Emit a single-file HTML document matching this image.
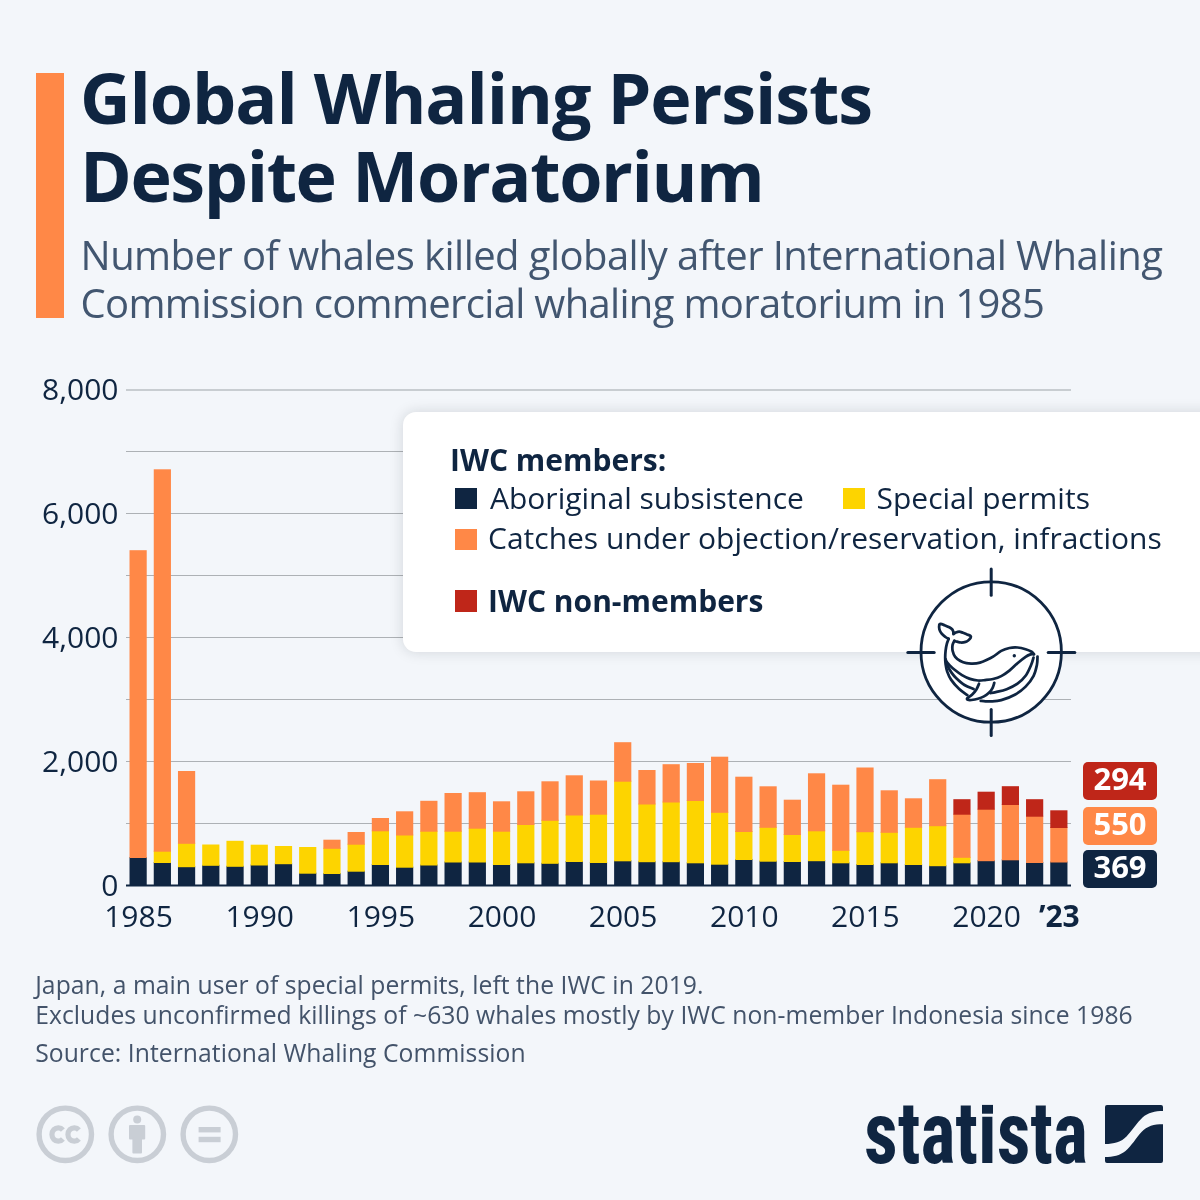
<!DOCTYPE html>
<html><head><meta charset="utf-8">
<style>
*{margin:0;padding:0;box-sizing:border-box}
html,body{width:1200px;height:1200px;overflow:hidden;background:#f3f6fa}
body{position:relative;font-family:"Open Sans","Liberation Sans",sans-serif;color:#0f2541}
.abs{position:absolute;white-space:nowrap}
#accent{left:36px;top:73px;width:28px;height:245px;background:#ff8847}
#title{left:80px;top:59.3px;font-size:70px;font-weight:700;line-height:77.5px;color:#0f2541}
#title span{display:block}
#sub{left:80.6px;top:230.5px;font-size:40px;line-height:48px;color:#425670}
#sub span{display:block}
.yl{position:absolute;right:1081.5px;font-size:30px;line-height:30px;color:#0f2541}
.xl{position:absolute;font-size:30px;line-height:30px;color:#0f2541;width:100px;text-align:center;top:901px}
#legend{left:403px;top:412px;width:830px;height:240px;background:#fff;border-radius:13px;box-shadow:0 0 14px rgba(20,25,35,0.15)}
.lg{position:absolute;font-size:30px;line-height:30px;color:#0f2541;white-space:nowrap}
.sq{position:absolute;width:21px;height:21px}
.vb{position:absolute;left:1083px;width:74px;height:38px;border-radius:5px;color:#fff;font-weight:700;font-size:31px;line-height:32px;text-align:center}
.note{position:absolute;left:35.2px;font-size:24.7px;line-height:24.7px;letter-spacing:0.05px;color:#43536a;white-space:nowrap}
</style></head><body>
<div id="accent" class="abs"></div>
<div id="title" class="abs"><span style="letter-spacing:-1.1px">Global Whaling Persists</span><span style="letter-spacing:-1.4px">Despite Moratorium</span></div>
<div id="sub" class="abs"><span style="letter-spacing:-0.56px">Number of whales killed globally after International Whaling</span><span style="letter-spacing:-0.68px">Commission commercial whaling moratorium in 1985</span></div>

<svg class="abs" style="left:0;top:0" width="1200" height="1200" viewBox="0 0 1200 1200">
<g fill="#adb1b5"><rect x="126" y="389.5" width="945" height="1" fill="#9ea3a7"/><rect x="126" y="451" width="945" height="1"/><rect x="126" y="513" width="945" height="1"/><rect x="126" y="575" width="945" height="1"/><rect x="126" y="637" width="945" height="1"/><rect x="126" y="699" width="945" height="1"/><rect x="126" y="761" width="945" height="1"/><rect x="126" y="823" width="945" height="1"/></g>
<rect x="129.52" y="857.00" width="17.2" height="28.40" fill="#0f2541"/>
<rect x="129.52" y="550.20" width="17.2" height="307.80" fill="#ff8847"/>
<rect x="153.75" y="862.00" width="17.2" height="23.40" fill="#0f2541"/>
<rect x="153.75" y="850.70" width="17.2" height="12.30" fill="#fdd400"/>
<rect x="153.75" y="469.30" width="17.2" height="382.40" fill="#ff8847"/>
<rect x="177.97" y="866.20" width="17.2" height="19.20" fill="#0f2541"/>
<rect x="177.97" y="842.80" width="17.2" height="24.40" fill="#fdd400"/>
<rect x="177.97" y="771.00" width="17.2" height="72.80" fill="#ff8847"/>
<rect x="202.21" y="864.80" width="17.2" height="20.60" fill="#0f2541"/>
<rect x="202.21" y="844.50" width="17.2" height="21.30" fill="#fdd400"/>
<rect x="226.44" y="865.80" width="17.2" height="19.60" fill="#0f2541"/>
<rect x="226.44" y="840.80" width="17.2" height="26.00" fill="#fdd400"/>
<rect x="250.66" y="864.50" width="17.2" height="20.90" fill="#0f2541"/>
<rect x="250.66" y="844.70" width="17.2" height="20.80" fill="#fdd400"/>
<rect x="274.89" y="863.20" width="17.2" height="22.20" fill="#0f2541"/>
<rect x="274.89" y="846.00" width="17.2" height="18.20" fill="#fdd400"/>
<rect x="299.12" y="872.70" width="17.2" height="12.70" fill="#0f2541"/>
<rect x="299.12" y="847.00" width="17.2" height="26.70" fill="#fdd400"/>
<rect x="323.36" y="873.00" width="17.2" height="12.40" fill="#0f2541"/>
<rect x="323.36" y="847.80" width="17.2" height="26.20" fill="#fdd400"/>
<rect x="323.36" y="839.70" width="17.2" height="9.10" fill="#ff8847"/>
<rect x="347.58" y="870.70" width="17.2" height="14.70" fill="#0f2541"/>
<rect x="347.58" y="843.70" width="17.2" height="28.00" fill="#fdd400"/>
<rect x="347.58" y="832.00" width="17.2" height="12.70" fill="#ff8847"/>
<rect x="371.81" y="864.00" width="17.2" height="21.40" fill="#0f2541"/>
<rect x="371.81" y="830.30" width="17.2" height="34.70" fill="#fdd400"/>
<rect x="371.81" y="818.00" width="17.2" height="13.30" fill="#ff8847"/>
<rect x="396.04" y="866.70" width="17.2" height="18.70" fill="#0f2541"/>
<rect x="396.04" y="834.50" width="17.2" height="33.20" fill="#fdd400"/>
<rect x="396.04" y="811.30" width="17.2" height="24.20" fill="#ff8847"/>
<rect x="420.27" y="864.50" width="17.2" height="20.90" fill="#0f2541"/>
<rect x="420.27" y="830.70" width="17.2" height="34.80" fill="#fdd400"/>
<rect x="420.27" y="800.80" width="17.2" height="30.90" fill="#ff8847"/>
<rect x="444.50" y="861.50" width="17.2" height="23.90" fill="#0f2541"/>
<rect x="444.50" y="830.70" width="17.2" height="31.80" fill="#fdd400"/>
<rect x="444.50" y="793.00" width="17.2" height="38.70" fill="#ff8847"/>
<rect x="468.73" y="861.50" width="17.2" height="23.90" fill="#0f2541"/>
<rect x="468.73" y="827.70" width="17.2" height="34.80" fill="#fdd400"/>
<rect x="468.73" y="792.20" width="17.2" height="36.50" fill="#ff8847"/>
<rect x="492.96" y="864.00" width="17.2" height="21.40" fill="#0f2541"/>
<rect x="492.96" y="830.70" width="17.2" height="34.30" fill="#fdd400"/>
<rect x="492.96" y="801.30" width="17.2" height="30.40" fill="#ff8847"/>
<rect x="517.20" y="862.30" width="17.2" height="23.10" fill="#0f2541"/>
<rect x="517.20" y="824.00" width="17.2" height="39.30" fill="#fdd400"/>
<rect x="517.20" y="791.30" width="17.2" height="33.70" fill="#ff8847"/>
<rect x="541.43" y="862.80" width="17.2" height="22.60" fill="#0f2541"/>
<rect x="541.43" y="819.80" width="17.2" height="44.00" fill="#fdd400"/>
<rect x="541.43" y="781.30" width="17.2" height="39.50" fill="#ff8847"/>
<rect x="565.65" y="861.00" width="17.2" height="24.40" fill="#0f2541"/>
<rect x="565.65" y="814.50" width="17.2" height="47.50" fill="#fdd400"/>
<rect x="565.65" y="775.30" width="17.2" height="40.20" fill="#ff8847"/>
<rect x="589.88" y="862.00" width="17.2" height="23.40" fill="#0f2541"/>
<rect x="589.88" y="813.70" width="17.2" height="49.30" fill="#fdd400"/>
<rect x="589.88" y="780.50" width="17.2" height="34.20" fill="#ff8847"/>
<rect x="614.12" y="860.30" width="17.2" height="25.10" fill="#0f2541"/>
<rect x="614.12" y="780.70" width="17.2" height="80.60" fill="#fdd400"/>
<rect x="614.12" y="742.20" width="17.2" height="39.50" fill="#ff8847"/>
<rect x="638.35" y="861.20" width="17.2" height="24.20" fill="#0f2541"/>
<rect x="638.35" y="803.50" width="17.2" height="58.70" fill="#fdd400"/>
<rect x="638.35" y="770.00" width="17.2" height="34.50" fill="#ff8847"/>
<rect x="662.57" y="861.20" width="17.2" height="24.20" fill="#0f2541"/>
<rect x="662.57" y="801.50" width="17.2" height="60.70" fill="#fdd400"/>
<rect x="662.57" y="764.20" width="17.2" height="38.30" fill="#ff8847"/>
<rect x="686.80" y="862.30" width="17.2" height="23.10" fill="#0f2541"/>
<rect x="686.80" y="800.00" width="17.2" height="63.30" fill="#fdd400"/>
<rect x="686.80" y="763.00" width="17.2" height="38.00" fill="#ff8847"/>
<rect x="711.03" y="863.70" width="17.2" height="21.70" fill="#0f2541"/>
<rect x="711.03" y="811.80" width="17.2" height="52.90" fill="#fdd400"/>
<rect x="711.03" y="756.70" width="17.2" height="56.10" fill="#ff8847"/>
<rect x="735.26" y="859.00" width="17.2" height="26.40" fill="#0f2541"/>
<rect x="735.26" y="831.00" width="17.2" height="29.00" fill="#fdd400"/>
<rect x="735.26" y="776.70" width="17.2" height="55.30" fill="#ff8847"/>
<rect x="759.50" y="860.70" width="17.2" height="24.70" fill="#0f2541"/>
<rect x="759.50" y="826.80" width="17.2" height="34.90" fill="#fdd400"/>
<rect x="759.50" y="786.30" width="17.2" height="41.50" fill="#ff8847"/>
<rect x="783.73" y="861.00" width="17.2" height="24.40" fill="#0f2541"/>
<rect x="783.73" y="834.00" width="17.2" height="28.00" fill="#fdd400"/>
<rect x="783.73" y="799.70" width="17.2" height="35.30" fill="#ff8847"/>
<rect x="807.96" y="860.20" width="17.2" height="25.20" fill="#0f2541"/>
<rect x="807.96" y="830.30" width="17.2" height="30.90" fill="#fdd400"/>
<rect x="807.96" y="773.30" width="17.2" height="58.00" fill="#ff8847"/>
<rect x="832.18" y="862.30" width="17.2" height="23.10" fill="#0f2541"/>
<rect x="832.18" y="849.80" width="17.2" height="13.50" fill="#fdd400"/>
<rect x="832.18" y="784.70" width="17.2" height="66.10" fill="#ff8847"/>
<rect x="856.41" y="864.00" width="17.2" height="21.40" fill="#0f2541"/>
<rect x="856.41" y="831.20" width="17.2" height="33.80" fill="#fdd400"/>
<rect x="856.41" y="767.50" width="17.2" height="64.70" fill="#ff8847"/>
<rect x="880.64" y="862.30" width="17.2" height="23.10" fill="#0f2541"/>
<rect x="880.64" y="831.80" width="17.2" height="31.50" fill="#fdd400"/>
<rect x="880.64" y="790.30" width="17.2" height="42.50" fill="#ff8847"/>
<rect x="904.88" y="864.00" width="17.2" height="21.40" fill="#0f2541"/>
<rect x="904.88" y="826.80" width="17.2" height="38.20" fill="#fdd400"/>
<rect x="904.88" y="798.30" width="17.2" height="29.50" fill="#ff8847"/>
<rect x="929.11" y="865.20" width="17.2" height="20.20" fill="#0f2541"/>
<rect x="929.11" y="825.20" width="17.2" height="41.00" fill="#fdd400"/>
<rect x="929.11" y="779.20" width="17.2" height="47.00" fill="#ff8847"/>
<rect x="953.34" y="862.30" width="17.2" height="23.10" fill="#0f2541"/>
<rect x="953.34" y="856.80" width="17.2" height="6.50" fill="#fdd400"/>
<rect x="953.34" y="813.70" width="17.2" height="44.10" fill="#ff8847"/>
<rect x="953.34" y="799.20" width="17.2" height="15.50" fill="#bf2619"/>
<rect x="977.56" y="860.20" width="17.2" height="25.20" fill="#0f2541"/>
<rect x="977.56" y="808.70" width="17.2" height="52.50" fill="#ff8847"/>
<rect x="977.56" y="791.70" width="17.2" height="18.00" fill="#bf2619"/>
<rect x="1001.79" y="859.30" width="17.2" height="26.10" fill="#0f2541"/>
<rect x="1001.79" y="804.00" width="17.2" height="56.30" fill="#ff8847"/>
<rect x="1001.79" y="786.20" width="17.2" height="18.80" fill="#bf2619"/>
<rect x="1026.03" y="862.00" width="17.2" height="23.40" fill="#0f2541"/>
<rect x="1026.03" y="815.70" width="17.2" height="47.30" fill="#ff8847"/>
<rect x="1026.03" y="799.20" width="17.2" height="17.50" fill="#bf2619"/>
<rect x="1050.26" y="861.50" width="17.2" height="23.90" fill="#0f2541"/>
<rect x="1050.26" y="827.00" width="17.2" height="35.50" fill="#ff8847"/>
<rect x="1050.26" y="810.30" width="17.2" height="17.70" fill="#bf2619"/>
<rect x="126" y="884.5" width="945" height="2" fill="#0f2541"/>
</svg>

<div class="yl" style="top:374px">8,000</div>
<div class="yl" style="top:497.9px">6,000</div>
<div class="yl" style="top:621.8px">4,000</div>
<div class="yl" style="top:745.6px">2,000</div>
<div class="yl" style="top:869.5px">0</div>

<div class="xl" style="left:88.5px">1985</div>
<div class="xl" style="left:209.7px">1990</div>
<div class="xl" style="left:330.8px">1995</div>
<div class="xl" style="left:452px">2000</div>
<div class="xl" style="left:573.1px">2005</div>
<div class="xl" style="left:694.3px">2010</div>
<div class="xl" style="left:815.4px">2015</div>
<div class="xl" style="left:936.6px">2020</div>
<div class="xl" style="left:1009.3px;font-weight:700">’23</div>

<div id="legend" class="abs"></div>
<div class="lg" style="left:450px;top:445px;font-weight:700">IWC members:</div>
<div class="sq" style="left:455px;top:488px;width:21.7px;height:20.7px;background:#0f2541"></div>
<div class="lg" style="left:490px;top:482.9px">Aboriginal subsistence</div>
<div class="sq" style="left:842.7px;top:488px;width:22.6px;height:20.7px;background:#fdd400"></div>
<div class="lg" style="left:876.5px;top:482.9px">Special permits</div>
<div class="sq" style="left:455px;top:529.2px;width:21.7px;height:21px;background:#ff8847"></div>
<div class="lg" style="left:488px;top:523px">Catches under objection/reservation, infractions</div>
<div class="sq" style="left:455px;top:590.3px;width:21.7px;height:21.4px;background:#bf2619"></div>
<div class="lg" style="left:488px;top:585.9px;font-weight:700">IWC non-members</div>

<svg class="abs" style="left:900px;top:560px" width="180" height="180" viewBox="900 560 180 180">
<circle cx="991.2" cy="652" r="70.2" fill="#fff" stroke="#0f2541" stroke-width="2.8"/>
<g stroke="#0f2541" stroke-width="3" stroke-linecap="round">
<line x1="991.2" y1="569" x2="991.2" y2="595.2"/>
<line x1="991.2" y1="709.5" x2="991.2" y2="735.5"/>
<line x1="907.8" y1="652.6" x2="934.2" y2="652.6"/>
<line x1="1048.2" y1="652.6" x2="1074.8" y2="652.6"/>
</g>
<g transform="translate(0,0.6)"><g fill="none" stroke="#0f2541" stroke-width="2.75" stroke-linecap="round" stroke-linejoin="round">
<path d="M948.70,638.30 C948.17,637.98 946.67,637.27 945.50,636.40 C944.33,635.53 942.72,634.37 941.70,633.10 C940.68,631.83 939.80,630.28 939.40,628.80 C939.00,627.32 939.12,625.12 939.30,624.20 C939.48,623.28 939.63,623.23 940.50,623.30 C941.37,623.37 943.03,624.03 944.50,624.60 C945.97,625.17 948.00,625.98 949.30,626.70 C950.60,627.42 951.63,628.13 952.30,628.90 C952.97,629.67 953.12,630.53 953.30,631.30 C953.48,632.07 953.38,633.13 953.40,633.50 M953.40,633.50 C953.78,633.25 954.73,632.42 955.70,632.00 C956.67,631.58 957.98,630.97 959.20,631.00 C960.42,631.03 961.70,631.73 963.00,632.20 C964.30,632.67 965.73,633.28 967.00,633.80 C968.27,634.32 970.00,634.72 970.60,635.30 C971.20,635.88 970.95,636.58 970.60,637.30 C970.25,638.02 969.33,638.93 968.50,639.60 C967.67,640.27 966.85,640.92 965.60,641.30 C964.35,641.68 962.43,641.93 961.00,641.90 C959.57,641.87 958.12,641.38 957.00,641.10 C955.88,640.82 954.75,640.35 954.30,640.20"/>
<path d="M954.30,640.20 C954.02,640.87 952.88,642.53 952.60,644.20 C952.32,645.87 952.17,648.20 952.60,650.20 C953.03,652.20 953.90,654.50 955.20,656.20 C956.50,657.90 958.52,659.33 960.40,660.40 C962.28,661.47 964.48,662.17 966.50,662.60 C968.52,663.03 970.25,663.10 972.50,663.00 C974.75,662.90 977.67,662.58 980.00,662.00 C982.33,661.42 984.32,660.48 986.50,659.50 C988.68,658.52 990.64,657.63 993.10,656.10 C995.56,654.57 998.53,651.75 1001.25,650.30 C1003.97,648.85 1006.69,647.97 1009.40,647.40 C1012.11,646.83 1014.80,646.70 1017.50,646.90 C1020.20,647.10 1023.25,647.88 1025.60,648.60 C1027.95,649.32 1030.22,650.37 1031.60,651.20 C1032.98,652.03 1033.52,653.20 1033.90,653.60"/>
<path d="M1033.90,653.60 C1033.33,653.63 1031.88,653.37 1030.50,653.80 C1029.12,654.23 1027.77,654.73 1025.60,656.20 C1023.43,657.67 1020.20,660.30 1017.50,662.60 C1014.80,664.90 1012.11,667.85 1009.40,670.00 C1006.69,672.15 1003.97,674.10 1001.25,675.50 C998.53,676.90 995.81,677.73 993.10,678.40 C990.39,679.07 987.53,679.25 985.00,679.50 C982.47,679.75 980.40,680.10 977.90,679.90 C975.40,679.70 972.65,679.20 970.00,678.30 C967.35,677.40 964.57,676.02 962.00,674.50 C959.43,672.98 956.68,670.87 954.60,669.20 C952.52,667.53 950.85,665.87 949.50,664.50 C948.15,663.13 947.00,661.58 946.50,661.00"/>
<path d="M948.70,638.30 C948.40,639.08 947.42,641.05 946.90,643.00 C946.38,644.95 945.88,647.67 945.60,650.00 C945.32,652.33 945.20,654.75 945.20,657.00 C945.20,659.25 945.27,661.17 945.60,663.50 C945.93,665.83 946.27,668.37 947.20,671.00 C948.13,673.63 949.20,676.38 951.20,679.30 C953.20,682.22 956.50,685.95 959.20,688.50 C961.90,691.05 966.03,693.58 967.40,694.60"/>
<path d="M945.60,658.50 C945.92,659.58 946.52,662.75 947.50,665.00 C948.48,667.25 950.03,669.90 951.50,672.00 C952.97,674.10 954.13,675.53 956.30,677.60 C958.47,679.67 961.62,682.60 964.50,684.40 C967.38,686.20 972.08,687.73 973.60,688.40"/>
<path d="M979.00,683.20 C978.57,684.13 977.57,686.97 976.40,688.80 C975.23,690.63 973.52,692.73 972.00,694.20 C970.48,695.67 968.00,696.77 967.30,697.60 C966.60,698.43 967.10,698.90 967.80,699.20 C968.50,699.50 969.82,699.57 971.50,699.40 C973.18,699.23 975.82,698.80 977.90,698.20 C979.98,697.60 982.12,696.83 984.00,695.80 C985.88,694.77 987.78,693.38 989.20,692.00 C990.62,690.62 991.65,689.13 992.50,687.50 C993.35,685.87 994.00,683.08 994.30,682.20"/>
<path d="M990.30,692.50 C991.22,692.33 993.07,692.15 995.80,691.50 C998.53,690.85 1003.08,690.00 1006.70,688.60 C1010.32,687.20 1014.35,685.33 1017.50,683.10 C1020.65,680.87 1023.35,678.28 1025.60,675.20 C1027.85,672.12 1029.68,667.63 1031.00,664.60 C1032.32,661.57 1033.08,658.27 1033.50,657.00"/>
<path d="M980.80,700.30 C981.58,700.37 983.90,700.62 985.50,700.70 C987.10,700.78 987.77,700.98 990.40,700.80 C993.02,700.62 997.18,700.70 1001.25,699.60 C1005.32,698.50 1010.74,696.47 1014.80,694.20 C1018.86,691.93 1022.47,689.17 1025.60,686.00 C1028.73,682.83 1031.72,678.80 1033.60,675.20 C1035.48,671.60 1036.25,667.60 1036.90,664.40 C1037.55,661.20 1037.40,657.40 1037.50,656.00"/>
</g>
<circle cx="1014.3" cy="655.2" r="1.7" fill="#0f2541"/></g>

</svg>

<div class="vb" style="top:762.4px;background:#bf2619">294</div>
<div class="vb" style="top:806.6px;background:#ff8847">550</div>
<div class="vb" style="top:850px;background:#0f2541">369</div>

<div class="note" style="top:973.3px">Japan, a main user of special permits, left the IWC in 2019.</div>
<div class="note" style="top:1002.6px">Excludes unconfirmed killings of ~630 whales mostly by IWC non-member Indonesia since 1986</div>
<div class="note" style="top:1040.8px">Source: International Whaling Commission</div>


<svg class="abs" style="left:0;top:1090px" width="300" height="90" viewBox="0 1090 300 90">
<g fill="none" stroke="#c9ced5" stroke-width="5.4">
<circle cx="65.3" cy="1134.3" r="26.2"/>
<circle cx="137.3" cy="1134.3" r="26.2"/>
<circle cx="209.3" cy="1134.3" r="26.2"/>
<path d="M62.9,1130 A6.3,6.7 0 1 0 62.9,1139" stroke-width="5.2"/>
<path d="M78.9,1130 A6.3,6.7 0 1 0 78.9,1139" stroke-width="5.2"/>
</g>
<g fill="#c9ced5">
<circle cx="137.2" cy="1119.6" r="4"/>
<rect x="129" y="1125" width="16.2" height="14.5" rx="1"/>
<rect x="132.4" y="1137" width="9.6" height="16.6" rx="1"/>
<rect x="198.6" y="1127" width="22" height="5.4"/>
<rect x="198.6" y="1136.8" width="22" height="5.4"/>
</g>
</svg>

<svg class="abs" style="left:850px;top:1090px" width="330" height="90" viewBox="850 1090 330 90">
<text x="864" y="1162.5" textLength="224" lengthAdjust="spacingAndGlyphs" font-family="'Roboto Condensed','Liberation Sans Narrow','Liberation Sans',sans-serif" font-weight="700" font-size="87" fill="#0f2541">statista</text>
<rect x="980.5" y="1095" width="14" height="20.5" fill="#f3f6fa"/>
<rect x="982" y="1104.9" width="11" height="8.8" fill="#0f2541"/>
<g transform="translate(1105,1105)" fill="#0f2541">
<path d="M2,0 H56 Q58,0 58,2 V6 C50,6 43,7.5 37.5,12.5 C32,17.5 27,25.5 21.5,31.5 C16.5,36.8 9,39 0,39 V2 Q0,0 2,0 Z"/>
<path d="M56,58 H2 Q0,58 0,56 V52 C8,52 15,50.5 20.5,46 C26.5,41 31,33 36.5,27 C42,21 49,19.3 58,19.3 V56 Q58,58 56,58 Z"/>
</g>
</svg>
</body></html>
